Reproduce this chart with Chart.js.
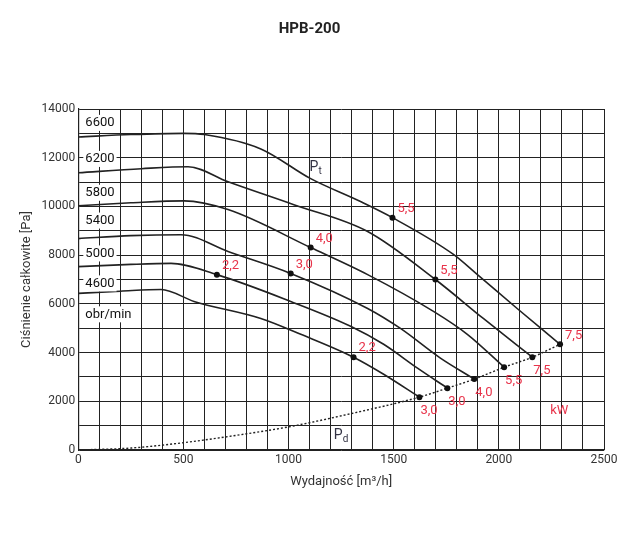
<!DOCTYPE html>
<html><head><meta charset="utf-8">
<script src="https://cdn.jsdelivr.net/npm/chart.js@4"></script>
<style>body{margin:0;background:#fff}#wrap{width:624px;height:554px}</style>
</head><body><div id="wrap"><canvas id="c"></canvas></div>
<script>
// fan curves HPB-200, [x m3/h, y Pa]
const rpm6600 = [[0,12850],[250,12950],[500,13000],[600,12950],[868,12360],[1105,11140],[1342,10200],[1494,9540],[1784,8030],[1898,7200],[2087,5810],[2291,4340]];
const rpm6200 = [[0,11380],[300,11550],[522,11630],[712,11010],[1025,10070],[1376,8970],[1698,7000],[1926,5400],[2159,3810]];
const rpm5800 = [[0,10030],[250,10150],[503,10230],[712,9870],[1105,8310],[1376,7200],[1689,5690],[1850,4750],[2025,3400]];
const rpm5400 = [[0,8680],[250,8800],[488,8840],[712,8150],[1010,7250],[1376,5810],[1532,4990],[1722,3770],[1883,2910]];
const rpm5000 = [[0,7530],[250,7620],[441,7660],[659,7200],[1010,6100],[1295,5080],[1452,4340],[1613,3360],[1755,2540]];
const rpm4600 = [[0,6430],[200,6520],[394,6590],[550,6100],[868,5400],[1058,4750],[1309,3810],[1452,3110],[1622,2170]];
const pd = [[0,0],[250,80],[500,300],[750,600],[1000,950],[1300,1500],[1622,2170],[1755,2540],[1883,2910],[2025,3400],[2159,3810],[2291,4340]];
// power points [x, y, label, label side]
const powerDots = [[1494,9540,'5,5','r'],[1698,7000,'5,5','r'],[1105,8310,'4,0','r'],[1010,7250,'3,0','r'],[659,7200,'2,2','r'],[1309,3810,'2,2','r'],
  [1622,2170,'3,0','b'],[1755,2540,'3,0','b'],[1883,2910,'4,0','b'],[2025,3400,'5,5','b'],[2159,3810,'7,5','b'],[2291,4340,'7,5','r']];
const rpmLabels = [['6600',13430],['6200',11950],['5800',10560],['5400',9420],['5000',8070],['4600',6840],['obr/min',5570]];

const toPts = a => a.map(p => ({x:p[0], y:p[1]}));
const mkLine = d => ({data:toPts(d),showLine:true,borderColor:'#222',borderWidth:1.6,pointRadius:0,cubicInterpolationMode:'monotone',fill:false});

const labelsPlugin = {
  id:'labels',
  afterDatasetsDraw(chart) {
    const {ctx, scales:{x, y}} = chart;
    ctx.save();
    ctx.font = '13px "Liberation Sans Narrow", Roboto, sans-serif';
    ctx.textBaseline = 'middle';
    rpmLabels.forEach(l => {
      const px = x.getPixelForValue(0) + 7, py = y.getPixelForValue(l[1]);
      const w = ctx.measureText(l[0]).width;
      ctx.fillStyle = '#fff'; ctx.fillRect(px - 2, py - 8, w + 4, 16);
      ctx.fillStyle = '#111'; ctx.fillText(l[0], px, py);
    });
    ctx.fillStyle = '#111';
    powerDots.forEach(d => {
      const px = x.getPixelForValue(d[0]), py = y.getPixelForValue(d[1]);
      ctx.beginPath(); ctx.arc(px, py, 3, 0, 2*Math.PI); ctx.fill();
    });
    ctx.fillStyle = '#e8334a';
    powerDots.forEach(d => {
      const px = x.getPixelForValue(d[0]), py = y.getPixelForValue(d[1]);
      if (d[3] === 'r') ctx.fillText(d[2], px + 5, py - 9);
      else ctx.fillText(d[2], px + 1, py + 14);
    });
    ctx.fillText('kW', x.getPixelForValue(2244), y.getPixelForValue(1600));
    ctx.fillStyle = '#334';
    ctx.font = '14px "Liberation Sans Narrow", Roboto, sans-serif';
    ctx.fillText('P', x.getPixelForValue(1100), y.getPixelForValue(11600));
    ctx.fillText('P', x.getPixelForValue(1215), y.getPixelForValue(600));
    ctx.font = '10px "Liberation Sans Narrow", Roboto, sans-serif';
    ctx.fillText('t', x.getPixelForValue(1100) + 9, y.getPixelForValue(11600) + 4);
    ctx.fillText('d', x.getPixelForValue(1215) + 9, y.getPixelForValue(600) + 4);
    ctx.restore();
  }
};

new Chart(document.getElementById('c'), {
  type:'scatter',
  data:{datasets:[mkLine(rpm6600),mkLine(rpm6200),mkLine(rpm5800),mkLine(rpm5400),mkLine(rpm5000),mkLine(rpm4600),
    {...mkLine(pd),borderDash:[2,2],borderWidth:1.4}]},
  options:{
    responsive:true,maintainAspectRatio:false,animation:false,
    layout:{padding:{top:20,right:20,left:15,bottom:60}},
    plugins:{legend:{display:false},tooltip:{enabled:false},
      title:{display:true,text:'HPB-200',color:'#222',font:{family:'Roboto',size:15,weight:'bold'},padding:{top:0,bottom:71}}},
    scales:{
      x:{type:'linear',min:0,max:2500,
        ticks:{stepSize:100,autoSkip:false,maxRotation:0,color:'#333',font:{family:'Roboto',size:12},callback:v => v % 500 === 0 ? v : ''},
        grid:{color:'#222',lineWidth:1,drawTicks:false},border:{color:'#222',width:1.2},
        title:{display:true,text:'Wydajność [m³/h]',color:'#333',font:{family:'Roboto',size:13}}},
      y:{min:0,max:14000,
        ticks:{stepSize:1000,autoSkip:false,color:'#333',font:{family:'Roboto',size:12},callback:v => v % 2000 === 0 ? v : ''},
        grid:{color:'#222',lineWidth:1,drawTicks:false},border:{color:'#222',width:1.2},
        title:{display:true,text:'Ciśnienie całkowite [Pa]',color:'#333',font:{family:'Roboto',size:13}}}
    }
  },
  plugins:[labelsPlugin]
});
</script></body></html>
